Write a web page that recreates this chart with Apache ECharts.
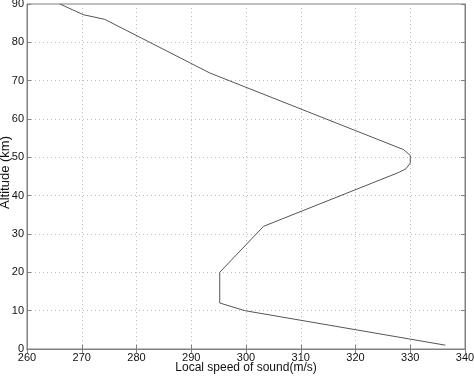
<!DOCTYPE html>
<html>
<head>
<meta charset="utf-8">
<script src="https://cdn.jsdelivr.net/npm/echarts@6/dist/echarts.min.js"></script>
<style>html,body{margin:0;padding:0;background:#fff;}#c{width:474px;height:377px;}</style>
</head>
<body>
<div id="c"></div>
<script>
const speed = [336.4, 299.8, 295.2, 295.2, 303.2, 327.8, 329.2, 330.0, 330.0, 328.8, 293.4, 274.2, 270.3, 266.0];
const altitude = [1, 10, 12, 20, 32, 46, 47, 48.5, 50.5, 52, 72, 86, 87.2, 90];
const xTicks = [260, 270, 280, 290, 300, 310, 320, 330, 340];
const yTicks = [0, 10, 20, 30, 40, 50, 60, 70, 80, 90];

const chart = echarts.init(document.getElementById('c'));
const font = 'Liberation Sans, Arial, Helvetica, sans-serif';
const axisLineColor = '#808080';
const split = {show: true, lineStyle: {type: [1, 3], color: '#bbb', width: 1}};
chart.setOption({
  animation: false,
  grid: {left: 27, right: 9, top: 4, bottom: 28, containLabel: false, outerBoundsMode: 'none',
         show: true, borderColor: axisLineColor, borderWidth: 1},
  xAxis: [{
    type: 'value', min: xTicks[0], max: xTicks[xTicks.length - 1], interval: 10,
    name: 'Local speed of sound(m/s)', nameLocation: 'middle', nameGap: 13, nameMoveOverlap: false,
    nameTextStyle: {fontFamily: font, fontSize: 12, color: '#111', verticalAlign: 'top'},
    axisLine: {show: true, lineStyle: {color: axisLineColor}},
    axisTick: {show: true, inside: true, length: 4, lineStyle: {color: axisLineColor}},
    axisLabel: {fontFamily: font, fontSize: 11, color: '#111', margin: 3},
    splitLine: split
  }, {
    type: 'value', position: 'top', min: xTicks[0], max: xTicks[xTicks.length - 1], interval: 10,
    axisLine: {show: true, lineStyle: {color: axisLineColor}},
    axisTick: {show: true, inside: true, length: 4, lineStyle: {color: axisLineColor}},
    axisLabel: {show: false}, splitLine: {show: false}
  }],
  yAxis: [{
    type: 'value', min: yTicks[0], max: yTicks[yTicks.length - 1], interval: 10,
    name: 'Altitude (km)', nameLocation: 'middle', nameGap: 15, nameRotate: 90, nameMoveOverlap: false,
    nameTextStyle: {fontFamily: font, fontSize: 13, color: '#111', verticalAlign: 'bottom', padding: [0, 0, 0, 8]},
    axisLine: {show: true, lineStyle: {color: axisLineColor}},
    axisTick: {show: true, inside: true, length: 4, lineStyle: {color: axisLineColor}},
    axisLabel: {fontFamily: font, fontSize: 11, color: '#111', margin: 3},
    splitLine: split
  }, {
    type: 'value', position: 'right', min: yTicks[0], max: yTicks[yTicks.length - 1], interval: 10,
    axisLine: {show: true, lineStyle: {color: axisLineColor}},
    axisTick: {show: true, inside: true, length: 4, lineStyle: {color: axisLineColor}},
    axisLabel: {show: false}, splitLine: {show: false}
  }],
  series: [{
    type: 'line',
    data: speed.map((s, i) => [s, altitude[i]]),
    showSymbol: false,
    lineStyle: {color: '#555', width: 1},
    clip: false
  }]
});
</script>
</body>
</html>
